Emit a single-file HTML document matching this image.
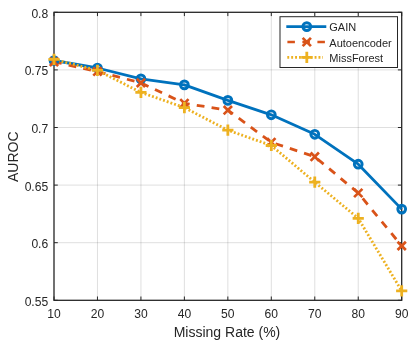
<!DOCTYPE html><html><head><meta charset="utf-8"><style>html,body{margin:0;padding:0;background:#fff}svg{display:block}text{font-family:"Liberation Sans",sans-serif;fill:#262626}</style></head><body>
<svg width="415" height="343" viewBox="0 0 415 343">
<rect width="415" height="343" fill="#fff"/>
<line x1="97.46" y1="12.3" x2="97.46" y2="300.3" stroke="#262626" stroke-opacity="0.15" stroke-width="1"/>
<line x1="140.93" y1="12.3" x2="140.93" y2="300.3" stroke="#262626" stroke-opacity="0.15" stroke-width="1"/>
<line x1="184.39" y1="12.3" x2="184.39" y2="300.3" stroke="#262626" stroke-opacity="0.15" stroke-width="1"/>
<line x1="227.85" y1="12.3" x2="227.85" y2="300.3" stroke="#262626" stroke-opacity="0.15" stroke-width="1"/>
<line x1="271.31" y1="12.3" x2="271.31" y2="300.3" stroke="#262626" stroke-opacity="0.15" stroke-width="1"/>
<line x1="314.77" y1="12.3" x2="314.77" y2="300.3" stroke="#262626" stroke-opacity="0.15" stroke-width="1"/>
<line x1="358.24" y1="12.3" x2="358.24" y2="300.3" stroke="#262626" stroke-opacity="0.15" stroke-width="1"/>
<line x1="54.0" y1="242.70" x2="401.7" y2="242.70" stroke="#262626" stroke-opacity="0.15" stroke-width="1"/>
<line x1="54.0" y1="185.10" x2="401.7" y2="185.10" stroke="#262626" stroke-opacity="0.15" stroke-width="1"/>
<line x1="54.0" y1="127.50" x2="401.7" y2="127.50" stroke="#262626" stroke-opacity="0.15" stroke-width="1"/>
<line x1="54.0" y1="69.90" x2="401.7" y2="69.90" stroke="#262626" stroke-opacity="0.15" stroke-width="1"/>
<rect x="54.0" y="12.3" width="347.7" height="288.0" fill="none" stroke="#262626" stroke-width="1.3"/>
<line x1="54.00" y1="300.3" x2="54.00" y2="296.5" stroke="#262626" stroke-width="1"/>
<line x1="54.00" y1="12.3" x2="54.00" y2="16.1" stroke="#262626" stroke-width="1"/>
<text x="54.00" y="318" font-size="12.1" text-anchor="middle">10</text>
<line x1="97.46" y1="300.3" x2="97.46" y2="296.5" stroke="#262626" stroke-width="1"/>
<line x1="97.46" y1="12.3" x2="97.46" y2="16.1" stroke="#262626" stroke-width="1"/>
<text x="97.46" y="318" font-size="12.1" text-anchor="middle">20</text>
<line x1="140.93" y1="300.3" x2="140.93" y2="296.5" stroke="#262626" stroke-width="1"/>
<line x1="140.93" y1="12.3" x2="140.93" y2="16.1" stroke="#262626" stroke-width="1"/>
<text x="140.93" y="318" font-size="12.1" text-anchor="middle">30</text>
<line x1="184.39" y1="300.3" x2="184.39" y2="296.5" stroke="#262626" stroke-width="1"/>
<line x1="184.39" y1="12.3" x2="184.39" y2="16.1" stroke="#262626" stroke-width="1"/>
<text x="184.39" y="318" font-size="12.1" text-anchor="middle">40</text>
<line x1="227.85" y1="300.3" x2="227.85" y2="296.5" stroke="#262626" stroke-width="1"/>
<line x1="227.85" y1="12.3" x2="227.85" y2="16.1" stroke="#262626" stroke-width="1"/>
<text x="227.85" y="318" font-size="12.1" text-anchor="middle">50</text>
<line x1="271.31" y1="300.3" x2="271.31" y2="296.5" stroke="#262626" stroke-width="1"/>
<line x1="271.31" y1="12.3" x2="271.31" y2="16.1" stroke="#262626" stroke-width="1"/>
<text x="271.31" y="318" font-size="12.1" text-anchor="middle">60</text>
<line x1="314.77" y1="300.3" x2="314.77" y2="296.5" stroke="#262626" stroke-width="1"/>
<line x1="314.77" y1="12.3" x2="314.77" y2="16.1" stroke="#262626" stroke-width="1"/>
<text x="314.77" y="318" font-size="12.1" text-anchor="middle">70</text>
<line x1="358.24" y1="300.3" x2="358.24" y2="296.5" stroke="#262626" stroke-width="1"/>
<line x1="358.24" y1="12.3" x2="358.24" y2="16.1" stroke="#262626" stroke-width="1"/>
<text x="358.24" y="318" font-size="12.1" text-anchor="middle">80</text>
<line x1="401.70" y1="300.3" x2="401.70" y2="296.5" stroke="#262626" stroke-width="1"/>
<line x1="401.70" y1="12.3" x2="401.70" y2="16.1" stroke="#262626" stroke-width="1"/>
<text x="401.70" y="318" font-size="12.1" text-anchor="middle">90</text>
<line x1="54.0" y1="300.30" x2="57.8" y2="300.30" stroke="#262626" stroke-width="1"/>
<line x1="401.7" y1="300.30" x2="397.9" y2="300.30" stroke="#262626" stroke-width="1"/>
<text x="48.2" y="305.70" font-size="12.1" text-anchor="end">0.55</text>
<line x1="54.0" y1="242.70" x2="57.8" y2="242.70" stroke="#262626" stroke-width="1"/>
<line x1="401.7" y1="242.70" x2="397.9" y2="242.70" stroke="#262626" stroke-width="1"/>
<text x="48.2" y="248.10" font-size="12.1" text-anchor="end">0.6</text>
<line x1="54.0" y1="185.10" x2="57.8" y2="185.10" stroke="#262626" stroke-width="1"/>
<line x1="401.7" y1="185.10" x2="397.9" y2="185.10" stroke="#262626" stroke-width="1"/>
<text x="48.2" y="190.50" font-size="12.1" text-anchor="end">0.65</text>
<line x1="54.0" y1="127.50" x2="57.8" y2="127.50" stroke="#262626" stroke-width="1"/>
<line x1="401.7" y1="127.50" x2="397.9" y2="127.50" stroke="#262626" stroke-width="1"/>
<text x="48.2" y="132.90" font-size="12.1" text-anchor="end">0.7</text>
<line x1="54.0" y1="69.90" x2="57.8" y2="69.90" stroke="#262626" stroke-width="1"/>
<line x1="401.7" y1="69.90" x2="397.9" y2="69.90" stroke="#262626" stroke-width="1"/>
<text x="48.2" y="75.30" font-size="12.1" text-anchor="end">0.75</text>
<line x1="54.0" y1="12.30" x2="57.8" y2="12.30" stroke="#262626" stroke-width="1"/>
<line x1="401.7" y1="12.30" x2="397.9" y2="12.30" stroke="#262626" stroke-width="1"/>
<text x="48.2" y="17.70" font-size="12.1" text-anchor="end">0.8</text>
<polyline points="54.00,60.50 97.46,68.00 140.93,78.90 184.39,84.90 227.85,100.40 271.31,114.80 314.77,134.30 358.24,164.20 401.70,209.10" fill="none" stroke="#0072bd" stroke-width="2.8" stroke-linejoin="round"/>
<polyline points="54.00,61.80 97.46,71.50 140.93,82.90 184.39,103.30 227.85,110.20 271.31,142.30 314.77,156.70 358.24,193.00 401.70,245.90" fill="none" stroke="#d95319" stroke-width="2.8" stroke-dasharray="7.8,7.2" stroke-linejoin="round"/>
<polyline points="54.00,59.40 97.46,70.40 140.93,92.40 184.39,107.60 227.85,130.20 271.31,145.50 314.77,182.20 358.24,218.30 401.70,290.90" fill="none" stroke="#edb120" stroke-width="2.8" stroke-dasharray="1.9,2" stroke-linejoin="round"/>
<circle cx="54.00" cy="60.50" r="3.9" fill="none" stroke="#0072bd" stroke-width="2.9"/>
<circle cx="97.46" cy="68.00" r="3.9" fill="none" stroke="#0072bd" stroke-width="2.9"/>
<circle cx="140.93" cy="78.90" r="3.9" fill="none" stroke="#0072bd" stroke-width="2.9"/>
<circle cx="184.39" cy="84.90" r="3.9" fill="none" stroke="#0072bd" stroke-width="2.9"/>
<circle cx="227.85" cy="100.40" r="3.9" fill="none" stroke="#0072bd" stroke-width="2.9"/>
<circle cx="271.31" cy="114.80" r="3.9" fill="none" stroke="#0072bd" stroke-width="2.9"/>
<circle cx="314.77" cy="134.30" r="3.9" fill="none" stroke="#0072bd" stroke-width="2.9"/>
<circle cx="358.24" cy="164.20" r="3.9" fill="none" stroke="#0072bd" stroke-width="2.9"/>
<circle cx="401.70" cy="209.10" r="3.9" fill="none" stroke="#0072bd" stroke-width="2.9"/>
<path d="M49.85 57.65L58.15 65.95M49.85 65.95L58.15 57.65" stroke="#d95319" stroke-width="2.7" fill="none"/>
<path d="M93.31 67.35L101.61 75.65M93.31 75.65L101.61 67.35" stroke="#d95319" stroke-width="2.7" fill="none"/>
<path d="M136.78 78.75L145.08 87.05M136.78 87.05L145.08 78.75" stroke="#d95319" stroke-width="2.7" fill="none"/>
<path d="M180.24 99.15L188.54 107.45M180.24 107.45L188.54 99.15" stroke="#d95319" stroke-width="2.7" fill="none"/>
<path d="M223.70 106.05L232.00 114.35M223.70 114.35L232.00 106.05" stroke="#d95319" stroke-width="2.7" fill="none"/>
<path d="M267.16 138.15L275.46 146.45M267.16 146.45L275.46 138.15" stroke="#d95319" stroke-width="2.7" fill="none"/>
<path d="M310.62 152.55L318.92 160.85M310.62 160.85L318.92 152.55" stroke="#d95319" stroke-width="2.7" fill="none"/>
<path d="M354.09 188.85L362.39 197.15M354.09 197.15L362.39 188.85" stroke="#d95319" stroke-width="2.7" fill="none"/>
<path d="M397.55 241.75L405.85 250.05M397.55 250.05L405.85 241.75" stroke="#d95319" stroke-width="2.7" fill="none"/>
<path d="M48.40 59.40L59.60 59.40M54.00 53.80L54.00 65.00" stroke="#edb120" stroke-width="2.8" fill="none"/>
<path d="M91.86 70.40L103.06 70.40M97.46 64.80L97.46 76.00" stroke="#edb120" stroke-width="2.8" fill="none"/>
<path d="M135.33 92.40L146.53 92.40M140.93 86.80L140.93 98.00" stroke="#edb120" stroke-width="2.8" fill="none"/>
<path d="M178.79 107.60L189.99 107.60M184.39 102.00L184.39 113.20" stroke="#edb120" stroke-width="2.8" fill="none"/>
<path d="M222.25 130.20L233.45 130.20M227.85 124.60L227.85 135.80" stroke="#edb120" stroke-width="2.8" fill="none"/>
<path d="M265.71 145.50L276.91 145.50M271.31 139.90L271.31 151.10" stroke="#edb120" stroke-width="2.8" fill="none"/>
<path d="M309.17 182.20L320.38 182.20M314.77 176.60L314.77 187.80" stroke="#edb120" stroke-width="2.8" fill="none"/>
<path d="M352.64 218.30L363.84 218.30M358.24 212.70L358.24 223.90" stroke="#edb120" stroke-width="2.8" fill="none"/>
<path d="M396.10 290.90L407.30 290.90M401.70 285.30L401.70 296.50" stroke="#edb120" stroke-width="2.8" fill="none"/>
<text x="227.0" y="336.6" font-size="14" text-anchor="middle">Missing Rate (%)</text>
<text transform="translate(17.5,156.7) rotate(-90)" font-size="14.05" text-anchor="middle">AUROC</text>
<rect x="280.0" y="16.7" width="117.5" height="50.8" fill="#fff" stroke="#262626" stroke-width="1"/>
<line x1="286.3" y1="26.6" x2="326.3" y2="26.6" stroke="#0072bd" stroke-width="2.6"/>
<circle cx="306.80" cy="26.60" r="3.9" fill="none" stroke="#0072bd" stroke-width="2.9"/>
<line x1="287.4" y1="42.0" x2="326.3" y2="42.0" stroke="#d95319" stroke-width="2.6" stroke-dasharray="7.5,7.5"/>
<path d="M302.65 37.85L310.95 46.15M302.65 46.15L310.95 37.85" stroke="#d95319" stroke-width="2.7" fill="none"/>
<line x1="287.3" y1="57.4" x2="323" y2="57.4" stroke="#edb120" stroke-width="2.6" stroke-dasharray="1.9,2"/>
<path d="M301.20 57.40L312.40 57.40M306.80 51.80L306.80 63.00" stroke="#edb120" stroke-width="2.8" fill="none"/>
<text x="329.3" y="31.45" font-size="11">GAIN</text>
<text x="329.3" y="46.85" font-size="11">Autoencoder</text>
<text x="329.3" y="62.25" font-size="11">MissForest</text>
</svg></body></html>
